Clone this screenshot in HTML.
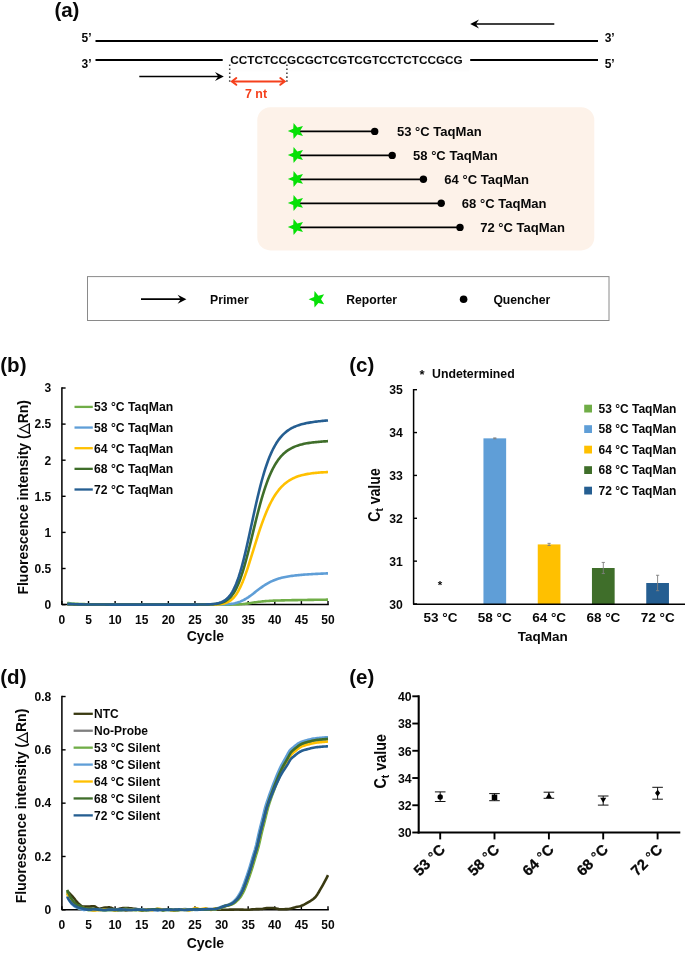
<!DOCTYPE html>
<html lang="en">
<head>
<meta charset="utf-8">
<title>TaqMan probe Tm comparison figure</title>
<style>
html,body{margin:0;padding:0;background:#fff;}
body{width:685px;height:959px;overflow:hidden;}
svg{display:block;font-family:"Liberation Sans", Arial, Helvetica, sans-serif;}
text{white-space:pre;}
</style>
</head>
<body>
<svg width="685" height="959" viewBox="0 0 685 959">
<rect width="685" height="959" fill="#fff"/>
<g id="panel-a">
<text x="54.40" y="16.60" font-size="20.5" text-anchor="start" fill="#080808" font-weight="bold" >(a)</text>
<text x="81.60" y="41.70" font-size="12" text-anchor="start" fill="#080808" font-weight="bold" >5’</text>
<text x="81.60" y="67.70" font-size="12" text-anchor="start" fill="#080808" font-weight="bold" >3’</text>
<text x="604.70" y="41.70" font-size="12" text-anchor="start" fill="#080808" font-weight="bold" >3’</text>
<text x="604.70" y="67.70" font-size="12" text-anchor="start" fill="#080808" font-weight="bold" >5’</text>
<line x1="95.50" y1="40.90" x2="598.00" y2="40.90" stroke="#000" stroke-width="2.0" />
<line x1="95.50" y1="59.90" x2="222.70" y2="59.90" stroke="#000" stroke-width="2.0" />
<line x1="470.20" y1="59.90" x2="598.00" y2="59.90" stroke="#000" stroke-width="2.0" />
<rect x="223.5" y="49.6" width="246" height="21.9" fill="#fdfdfd"/>
<text x="230.30" y="63.80" font-size="11.75" text-anchor="start" fill="#080808" font-weight="bold" >CCTCTCCGCGCTCGTCGTCCTCTCCGCG</text>
<line x1="139.30" y1="76.40" x2="220.80" y2="76.40" stroke="#000" stroke-width="1.5" />
<polygon points="223.80,76.40 215.00,71.90 218.20,76.40 215.00,80.90" fill="#000"/>
<line x1="554.30" y1="24.00" x2="473.20" y2="24.00" stroke="#000" stroke-width="1.5" />
<polygon points="470.20,24.00 479.00,19.50 475.80,24.00 479.00,28.50" fill="#000"/>
<line x1="229.70" y1="64.50" x2="229.70" y2="82.00" stroke="#404040" stroke-width="1.5" stroke-dasharray="1.6 2.34"/>
<line x1="286.90" y1="64.50" x2="286.90" y2="82.00" stroke="#404040" stroke-width="1.5" stroke-dasharray="1.6 2.34"/>
<line x1="232.80" y1="81.40" x2="283.80" y2="81.40" stroke="#f5401c" stroke-width="2.0" />
<polyline points="236.3,78.0 231.9,81.4 236.3,84.8" fill="none" stroke="#f5401c" stroke-width="2.0" stroke-linejoin="miter" stroke-linecap="round"/>
<polyline points="280.3,78.0 284.7,81.4 280.3,84.8" fill="none" stroke="#f5401c" stroke-width="2.0" stroke-linejoin="miter" stroke-linecap="round"/>
<text x="256.00" y="97.80" font-size="12.4" text-anchor="middle" fill="#f5401c" font-weight="bold" >7 nt</text>
<rect x="257.3" y="107.3" width="337" height="143.1" rx="13" ry="13" fill="#fdf2e9"/>
<line x1="297.00" y1="131.40" x2="374.70" y2="131.40" stroke="#000" stroke-width="1.7" />
<circle cx="374.7" cy="131.4" r="3.7" fill="#000"/>
<polygon points="287.80,131.00 293.21,128.83 293.60,123.01 297.34,127.48 303.00,126.06 299.90,131.00 303.00,135.94 297.34,134.52 293.60,138.99 293.21,133.17" fill="#06e006"/>
<text x="396.90" y="136.00" font-size="13.05" text-anchor="start" fill="#080808" font-weight="bold" >53 °C TaqMan</text>
<line x1="297.00" y1="155.40" x2="392.20" y2="155.40" stroke="#000" stroke-width="1.7" />
<circle cx="392.2" cy="155.4" r="3.7" fill="#000"/>
<polygon points="287.80,155.00 293.21,152.83 293.60,147.01 297.34,151.48 303.00,150.06 299.90,155.00 303.00,159.94 297.34,158.52 293.60,162.99 293.21,157.17" fill="#06e006"/>
<text x="413.00" y="160.00" font-size="13.05" text-anchor="start" fill="#080808" font-weight="bold" >58 °C TaqMan</text>
<line x1="297.00" y1="179.30" x2="423.40" y2="179.30" stroke="#000" stroke-width="1.7" />
<circle cx="423.4" cy="179.3" r="3.7" fill="#000"/>
<polygon points="287.80,178.90 293.21,176.73 293.60,170.91 297.34,175.38 303.00,173.96 299.90,178.90 303.00,183.84 297.34,182.42 293.60,186.89 293.21,181.07" fill="#06e006"/>
<text x="444.30" y="183.90" font-size="13.05" text-anchor="start" fill="#080808" font-weight="bold" >64 °C TaqMan</text>
<line x1="297.00" y1="203.30" x2="441.20" y2="203.30" stroke="#000" stroke-width="1.7" />
<circle cx="441.2" cy="203.3" r="3.7" fill="#000"/>
<polygon points="287.80,202.90 293.21,200.73 293.60,194.91 297.34,199.38 303.00,197.96 299.90,202.90 303.00,207.84 297.34,206.42 293.60,210.89 293.21,205.07" fill="#06e006"/>
<text x="461.80" y="207.90" font-size="13.05" text-anchor="start" fill="#080808" font-weight="bold" >68 °C TaqMan</text>
<line x1="297.00" y1="227.40" x2="460.00" y2="227.40" stroke="#000" stroke-width="1.7" />
<circle cx="460.0" cy="227.4" r="3.7" fill="#000"/>
<polygon points="287.80,227.00 293.21,224.83 293.60,219.01 297.34,223.48 303.00,222.06 299.90,227.00 303.00,231.94 297.34,230.52 293.60,234.99 293.21,229.17" fill="#06e006"/>
<text x="480.20" y="232.00" font-size="13.05" text-anchor="start" fill="#080808" font-weight="bold" >72 °C TaqMan</text>
<rect x="87.5" y="276.6" width="521.5" height="43.9" fill="#fff" stroke="#8a8a8a" stroke-width="1"/>
<line x1="141.00" y1="299.20" x2="183.40" y2="299.20" stroke="#000" stroke-width="1.7" />
<polygon points="186.40,299.20 177.60,294.70 180.80,299.20 177.60,303.70" fill="#000"/>
<text x="210.10" y="303.60" font-size="12.2" text-anchor="start" fill="#080808" font-weight="bold" >Primer</text>
<polygon points="308.60,299.30 314.13,297.07 314.54,291.12 318.37,295.69 324.16,294.25 321.00,299.30 324.16,304.35 318.37,302.91 314.54,307.48 314.13,301.53" fill="#06e006"/>
<text x="346.20" y="303.60" font-size="12.2" text-anchor="start" fill="#080808" font-weight="bold" >Reporter</text>
<circle cx="463.6" cy="299.3" r="3.8" fill="#000"/>
<text x="493.40" y="303.60" font-size="12.2" text-anchor="start" fill="#080808" font-weight="bold" >Quencher</text>
</g>
<g id="panel-b">
<text x="0.30" y="372.40" font-size="20.5" text-anchor="start" fill="#080808" font-weight="bold" >(b)</text>
<polyline points="61.9,387.2 61.9,604.6 328.8,604.6" fill="none" stroke="#000" stroke-width="1.5" stroke-linejoin="round"/>
<line x1="61.90" y1="604.60" x2="65.60" y2="604.60" stroke="#000" stroke-width="1.4" />
<text x="51.20" y="608.90" font-size="12" text-anchor="end" fill="#080808" font-weight="bold" >0</text>
<line x1="61.90" y1="568.50" x2="65.60" y2="568.50" stroke="#000" stroke-width="1.4" />
<text x="51.20" y="572.80" font-size="12" text-anchor="end" fill="#080808" font-weight="bold" >0.5</text>
<line x1="61.90" y1="532.40" x2="65.60" y2="532.40" stroke="#000" stroke-width="1.4" />
<text x="51.20" y="536.70" font-size="12" text-anchor="end" fill="#080808" font-weight="bold" >1</text>
<line x1="61.90" y1="496.30" x2="65.60" y2="496.30" stroke="#000" stroke-width="1.4" />
<text x="51.20" y="500.60" font-size="12" text-anchor="end" fill="#080808" font-weight="bold" >1.5</text>
<line x1="61.90" y1="460.20" x2="65.60" y2="460.20" stroke="#000" stroke-width="1.4" />
<text x="51.20" y="464.50" font-size="12" text-anchor="end" fill="#080808" font-weight="bold" >2</text>
<line x1="61.90" y1="424.10" x2="65.60" y2="424.10" stroke="#000" stroke-width="1.4" />
<text x="51.20" y="428.40" font-size="12" text-anchor="end" fill="#080808" font-weight="bold" >2.5</text>
<line x1="61.90" y1="388.00" x2="65.60" y2="388.00" stroke="#000" stroke-width="1.4" />
<text x="51.20" y="392.30" font-size="12" text-anchor="end" fill="#080808" font-weight="bold" >3</text>
<line x1="61.90" y1="604.60" x2="61.90" y2="601.00" stroke="#000" stroke-width="1.4" />
<text x="61.90" y="623.60" font-size="12" text-anchor="middle" fill="#080808" font-weight="bold" >0</text>
<line x1="88.51" y1="604.60" x2="88.51" y2="601.00" stroke="#000" stroke-width="1.4" />
<text x="88.51" y="623.60" font-size="12" text-anchor="middle" fill="#080808" font-weight="bold" >5</text>
<line x1="115.12" y1="604.60" x2="115.12" y2="601.00" stroke="#000" stroke-width="1.4" />
<text x="115.12" y="623.60" font-size="12" text-anchor="middle" fill="#080808" font-weight="bold" >10</text>
<line x1="141.73" y1="604.60" x2="141.73" y2="601.00" stroke="#000" stroke-width="1.4" />
<text x="141.73" y="623.60" font-size="12" text-anchor="middle" fill="#080808" font-weight="bold" >15</text>
<line x1="168.34" y1="604.60" x2="168.34" y2="601.00" stroke="#000" stroke-width="1.4" />
<text x="168.34" y="623.60" font-size="12" text-anchor="middle" fill="#080808" font-weight="bold" >20</text>
<line x1="194.95" y1="604.60" x2="194.95" y2="601.00" stroke="#000" stroke-width="1.4" />
<text x="194.95" y="623.60" font-size="12" text-anchor="middle" fill="#080808" font-weight="bold" >25</text>
<line x1="221.56" y1="604.60" x2="221.56" y2="601.00" stroke="#000" stroke-width="1.4" />
<text x="221.56" y="623.60" font-size="12" text-anchor="middle" fill="#080808" font-weight="bold" >30</text>
<line x1="248.17" y1="604.60" x2="248.17" y2="601.00" stroke="#000" stroke-width="1.4" />
<text x="248.17" y="623.60" font-size="12" text-anchor="middle" fill="#080808" font-weight="bold" >35</text>
<line x1="274.78" y1="604.60" x2="274.78" y2="601.00" stroke="#000" stroke-width="1.4" />
<text x="274.78" y="623.60" font-size="12" text-anchor="middle" fill="#080808" font-weight="bold" >40</text>
<line x1="301.39" y1="604.60" x2="301.39" y2="601.00" stroke="#000" stroke-width="1.4" />
<text x="301.39" y="623.60" font-size="12" text-anchor="middle" fill="#080808" font-weight="bold" >45</text>
<line x1="328.00" y1="604.60" x2="328.00" y2="601.00" stroke="#000" stroke-width="1.4" />
<text x="328.00" y="623.60" font-size="12" text-anchor="middle" fill="#080808" font-weight="bold" >50</text>
<path d="M67.22,603.01 L68.55,603.16 L69.88,603.30 L71.21,603.42 L72.54,603.54 L73.87,603.64 L75.20,603.73 L76.54,603.81 L77.87,603.89 L79.20,603.95 L80.53,604.02 L81.86,604.07 L83.19,604.12 L84.52,604.17 L85.85,604.21 L87.18,604.25 L88.51,604.28 L89.84,604.31 L91.17,604.34 L92.50,604.36 L93.83,604.39 L95.16,604.41 L96.49,604.42 L97.82,604.44 L99.15,604.46 L100.48,604.47 L101.81,604.48 L103.15,604.49 L104.48,604.50 L105.81,604.51 L107.14,604.52 L108.47,604.53 L109.80,604.54 L111.13,604.54 L112.46,604.55 L113.79,604.55 L115.12,604.56 L116.45,604.56 L117.78,604.56 L119.11,604.57 L120.44,604.57 L121.77,604.57 L123.10,604.58 L124.43,604.58 L125.76,604.58 L127.09,604.58 L128.43,604.58 L129.76,604.59 L131.09,604.59 L132.42,604.59 L133.75,604.59 L135.08,604.59 L136.41,604.59 L137.74,604.59 L139.07,604.59 L140.40,604.59 L141.73,604.59 L143.06,604.59 L144.39,604.60 L145.72,604.60 L147.05,604.60 L148.38,604.60 L149.71,604.60 L151.04,604.60 L152.37,604.60 L153.70,604.60 L155.03,604.60 L156.37,604.60 L157.70,604.60 L159.03,604.60 L160.36,604.60 L161.69,604.60 L163.02,604.60 L164.35,604.60 L165.68,604.60 L167.01,604.60 L168.34,604.60 L169.67,604.60 L171.00,604.60 L172.33,604.60 L173.66,604.60 L174.99,604.60 L176.32,604.60 L177.65,604.60 L178.98,604.60 L180.31,604.60 L181.65,604.60 L182.98,604.60 L184.31,604.60 L185.64,604.60 L186.97,604.60 L188.30,604.60 L189.63,604.60 L190.96,604.60 L192.29,604.60 L193.62,604.60 L194.95,604.60 L196.28,604.60 L197.61,604.60 L198.94,604.60 L200.27,604.60 L201.60,604.60 L202.93,604.60 L204.26,604.60 L205.59,604.60 L206.92,604.60 L208.25,604.60 L209.59,604.60 L210.92,604.60 L212.25,604.60 L213.58,604.60 L214.91,604.60 L216.24,604.60 L217.57,604.60 L218.90,604.60 L220.23,604.60 L221.56,604.60 L222.89,604.60 L224.22,604.60 L225.55,604.60 L226.88,604.60 L228.21,604.59 L229.54,604.59 L230.87,604.58 L232.20,604.57 L233.53,604.56 L234.87,604.53 L236.20,604.50 L237.53,604.45 L238.86,604.38 L240.19,604.30 L241.52,604.20 L242.85,604.08 L244.18,603.93 L245.51,603.77 L246.84,603.59 L248.17,603.40 L249.50,603.19 L250.83,602.99 L252.16,602.78 L253.49,602.57 L254.82,602.37 L256.15,602.18 L257.48,602.00 L258.81,601.83 L260.14,601.67 L261.47,601.52 L262.81,601.39 L264.14,601.27 L265.47,601.15 L266.80,601.05 L268.13,600.96 L269.46,600.88 L270.79,600.80 L272.12,600.73 L273.45,600.67 L274.78,600.61 L276.11,600.56 L277.44,600.51 L278.77,600.47 L280.10,600.43 L281.43,600.39 L282.76,600.36 L284.09,600.33 L285.42,600.30 L286.75,600.27 L288.08,600.24 L289.42,600.21 L290.75,600.19 L292.08,600.16 L293.41,600.14 L294.74,600.12 L296.07,600.10 L297.40,600.08 L298.73,600.05 L300.06,600.03 L301.39,600.01 L302.72,599.99 L304.05,599.97 L305.38,599.96 L306.71,599.94 L308.04,599.92 L309.37,599.90 L310.70,599.88 L312.03,599.86 L313.36,599.84 L314.69,599.82 L316.03,599.80 L317.36,599.79 L318.69,599.77 L320.02,599.75 L321.35,599.73 L322.68,599.71 L324.01,599.70 L325.34,599.68 L326.67,599.66 L328.00,599.64" fill="none" stroke="#70ad47" stroke-width="2.6" stroke-linejoin="round" stroke-linecap="butt"/>
<path d="M67.22,603.88 L68.55,603.95 L69.88,604.01 L71.21,604.07 L72.54,604.12 L73.87,604.16 L75.20,604.20 L76.54,604.24 L77.87,604.28 L79.20,604.31 L80.53,604.33 L81.86,604.36 L83.19,604.38 L84.52,604.40 L85.85,604.42 L87.18,604.44 L88.51,604.45 L89.84,604.47 L91.17,604.48 L92.50,604.49 L93.83,604.50 L95.16,604.51 L96.49,604.52 L97.82,604.53 L99.15,604.53 L100.48,604.54 L101.81,604.55 L103.15,604.55 L104.48,604.56 L105.81,604.56 L107.14,604.56 L108.47,604.57 L109.80,604.57 L111.13,604.57 L112.46,604.58 L113.79,604.58 L115.12,604.58 L116.45,604.58 L117.78,604.58 L119.11,604.59 L120.44,604.59 L121.77,604.59 L123.10,604.59 L124.43,604.59 L125.76,604.59 L127.09,604.59 L128.43,604.59 L129.76,604.59 L131.09,604.59 L132.42,604.59 L133.75,604.60 L135.08,604.60 L136.41,604.60 L137.74,604.60 L139.07,604.60 L140.40,604.60 L141.73,604.60 L143.06,604.60 L144.39,604.60 L145.72,604.60 L147.05,604.60 L148.38,604.60 L149.71,604.60 L151.04,604.60 L152.37,604.60 L153.70,604.60 L155.03,604.60 L156.37,604.60 L157.70,604.60 L159.03,604.60 L160.36,604.60 L161.69,604.60 L163.02,604.60 L164.35,604.60 L165.68,604.60 L167.01,604.60 L168.34,604.60 L169.67,604.60 L171.00,604.60 L172.33,604.60 L173.66,604.60 L174.99,604.60 L176.32,604.60 L177.65,604.60 L178.98,604.60 L180.31,604.60 L181.65,604.60 L182.98,604.60 L184.31,604.60 L185.64,604.60 L186.97,604.60 L188.30,604.60 L189.63,604.60 L190.96,604.60 L192.29,604.60 L193.62,604.60 L194.95,604.60 L196.28,604.60 L197.61,604.60 L198.94,604.60 L200.27,604.60 L201.60,604.60 L202.93,604.60 L204.26,604.60 L205.59,604.59 L206.92,604.59 L208.25,604.59 L209.59,604.59 L210.92,604.58 L212.25,604.58 L213.58,604.57 L214.91,604.56 L216.24,604.55 L217.57,604.54 L218.90,604.52 L220.23,604.49 L221.56,604.46 L222.89,604.42 L224.22,604.37 L225.55,604.31 L226.88,604.23 L228.21,604.13 L229.54,604.00 L230.87,603.85 L232.20,603.67 L233.53,603.45 L234.87,603.19 L236.20,602.87 L237.53,602.51 L238.86,602.08 L240.19,601.60 L241.52,601.05 L242.85,600.43 L244.18,599.75 L245.51,599.00 L246.84,598.19 L248.17,597.32 L249.50,596.40 L250.83,595.44 L252.16,594.44 L253.49,593.42 L254.82,592.39 L256.15,591.35 L257.48,590.31 L258.81,589.30 L260.14,588.30 L261.47,587.33 L262.81,586.39 L264.14,585.50 L265.47,584.65 L266.80,583.84 L268.13,583.08 L269.46,582.36 L270.79,581.70 L272.12,581.07 L273.45,580.50 L274.78,579.96 L276.11,579.47 L277.44,579.01 L278.77,578.59 L280.10,578.20 L281.43,577.84 L282.76,577.52 L284.09,577.21 L285.42,576.94 L286.75,576.68 L288.08,576.45 L289.42,576.23 L290.75,576.03 L292.08,575.84 L293.41,575.67 L294.74,575.51 L296.07,575.36 L297.40,575.23 L298.73,575.10 L300.06,574.98 L301.39,574.86 L302.72,574.75 L304.05,574.65 L305.38,574.56 L306.71,574.47 L308.04,574.38 L309.37,574.29 L310.70,574.21 L312.03,574.14 L313.36,574.06 L314.69,573.99 L316.03,573.92 L317.36,573.85 L318.69,573.78 L320.02,573.72 L321.35,573.66 L322.68,573.59 L324.01,573.53 L325.34,573.47 L326.67,573.41 L328.00,573.35" fill="none" stroke="#5f9ed7" stroke-width="2.6" stroke-linejoin="round" stroke-linecap="butt"/>
<path d="M67.22,604.17 L68.55,604.21 L69.88,604.25 L71.21,604.28 L72.54,604.31 L73.87,604.34 L75.20,604.36 L76.54,604.38 L77.87,604.41 L79.20,604.42 L80.53,604.44 L81.86,604.46 L83.19,604.47 L84.52,604.48 L85.85,604.49 L87.18,604.50 L88.51,604.51 L89.84,604.52 L91.17,604.53 L92.50,604.54 L93.83,604.54 L95.16,604.55 L96.49,604.55 L97.82,604.56 L99.15,604.56 L100.48,604.56 L101.81,604.57 L103.15,604.57 L104.48,604.57 L105.81,604.58 L107.14,604.58 L108.47,604.58 L109.80,604.58 L111.13,604.58 L112.46,604.59 L113.79,604.59 L115.12,604.59 L116.45,604.59 L117.78,604.59 L119.11,604.59 L120.44,604.59 L121.77,604.59 L123.10,604.59 L124.43,604.59 L125.76,604.59 L127.09,604.60 L128.43,604.60 L129.76,604.60 L131.09,604.60 L132.42,604.60 L133.75,604.60 L135.08,604.60 L136.41,604.60 L137.74,604.60 L139.07,604.60 L140.40,604.60 L141.73,604.60 L143.06,604.60 L144.39,604.60 L145.72,604.60 L147.05,604.60 L148.38,604.60 L149.71,604.60 L151.04,604.60 L152.37,604.60 L153.70,604.60 L155.03,604.60 L156.37,604.60 L157.70,604.60 L159.03,604.60 L160.36,604.60 L161.69,604.60 L163.02,604.60 L164.35,604.60 L165.68,604.60 L167.01,604.60 L168.34,604.60 L169.67,604.60 L171.00,604.60 L172.33,604.60 L173.66,604.60 L174.99,604.60 L176.32,604.60 L177.65,604.60 L178.98,604.60 L180.31,604.60 L181.65,604.60 L182.98,604.60 L184.31,604.60 L185.64,604.60 L186.97,604.60 L188.30,604.60 L189.63,604.60 L190.96,604.60 L192.29,604.60 L193.62,604.60 L194.95,604.60 L196.28,604.60 L197.61,604.60 L198.94,604.60 L200.27,604.60 L201.60,604.60 L202.93,604.59 L204.26,604.59 L205.59,604.59 L206.92,604.58 L208.25,604.58 L209.59,604.56 L210.92,604.55 L212.25,604.53 L213.58,604.50 L214.91,604.46 L216.24,604.40 L217.57,604.33 L218.90,604.23 L220.23,604.09 L221.56,603.91 L222.89,603.68 L224.22,603.38 L225.55,602.99 L226.88,602.50 L228.21,601.89 L229.54,601.14 L230.87,600.22 L232.20,599.11 L233.53,597.79 L234.87,596.23 L236.20,594.43 L237.53,592.37 L238.86,590.03 L240.19,587.42 L241.52,584.54 L242.85,581.39 L244.18,578.00 L245.51,574.38 L246.84,570.56 L248.17,566.57 L249.50,562.44 L250.83,558.22 L252.16,553.93 L253.49,549.61 L254.82,545.30 L256.15,541.02 L257.48,536.82 L258.81,532.71 L260.14,528.71 L261.47,524.85 L262.81,521.15 L264.14,517.60 L265.47,514.23 L266.80,511.03 L268.13,508.01 L269.46,505.17 L270.79,502.50 L272.12,500.01 L273.45,497.69 L274.78,495.53 L276.11,493.53 L277.44,491.68 L278.77,489.96 L280.10,488.38 L281.43,486.93 L282.76,485.59 L284.09,484.36 L285.42,483.23 L286.75,482.20 L288.08,481.25 L289.42,480.38 L290.75,479.59 L292.08,478.87 L293.41,478.21 L294.74,477.61 L296.07,477.06 L297.40,476.56 L298.73,476.10 L300.06,475.69 L301.39,475.31 L302.72,474.97 L304.05,474.65 L305.38,474.37 L306.71,474.11 L308.04,473.87 L309.37,473.66 L310.70,473.46 L312.03,473.28 L313.36,473.12 L314.69,472.98 L316.03,472.84 L317.36,472.72 L318.69,472.61 L320.02,472.51 L321.35,472.41 L322.68,472.33 L324.01,472.25 L325.34,472.18 L326.67,472.12 L328.00,472.06" fill="none" stroke="#ffc000" stroke-width="2.6" stroke-linejoin="round" stroke-linecap="butt"/>
<path d="M67.22,604.17 L68.55,604.21 L69.88,604.25 L71.21,604.28 L72.54,604.31 L73.87,604.34 L75.20,604.36 L76.54,604.38 L77.87,604.41 L79.20,604.42 L80.53,604.44 L81.86,604.46 L83.19,604.47 L84.52,604.48 L85.85,604.49 L87.18,604.50 L88.51,604.51 L89.84,604.52 L91.17,604.53 L92.50,604.54 L93.83,604.54 L95.16,604.55 L96.49,604.55 L97.82,604.56 L99.15,604.56 L100.48,604.56 L101.81,604.57 L103.15,604.57 L104.48,604.57 L105.81,604.58 L107.14,604.58 L108.47,604.58 L109.80,604.58 L111.13,604.58 L112.46,604.59 L113.79,604.59 L115.12,604.59 L116.45,604.59 L117.78,604.59 L119.11,604.59 L120.44,604.59 L121.77,604.59 L123.10,604.59 L124.43,604.59 L125.76,604.59 L127.09,604.60 L128.43,604.60 L129.76,604.60 L131.09,604.60 L132.42,604.60 L133.75,604.60 L135.08,604.60 L136.41,604.60 L137.74,604.60 L139.07,604.60 L140.40,604.60 L141.73,604.60 L143.06,604.60 L144.39,604.60 L145.72,604.60 L147.05,604.60 L148.38,604.60 L149.71,604.60 L151.04,604.60 L152.37,604.60 L153.70,604.60 L155.03,604.60 L156.37,604.60 L157.70,604.60 L159.03,604.60 L160.36,604.60 L161.69,604.60 L163.02,604.60 L164.35,604.60 L165.68,604.60 L167.01,604.60 L168.34,604.60 L169.67,604.60 L171.00,604.60 L172.33,604.60 L173.66,604.60 L174.99,604.60 L176.32,604.60 L177.65,604.60 L178.98,604.60 L180.31,604.60 L181.65,604.60 L182.98,604.60 L184.31,604.60 L185.64,604.60 L186.97,604.60 L188.30,604.60 L189.63,604.60 L190.96,604.59 L192.29,604.59 L193.62,604.59 L194.95,604.59 L196.28,604.58 L197.61,604.58 L198.94,604.57 L200.27,604.56 L201.60,604.55 L202.93,604.54 L204.26,604.52 L205.59,604.50 L206.92,604.47 L208.25,604.43 L209.59,604.38 L210.92,604.32 L212.25,604.24 L213.58,604.15 L214.91,604.02 L216.24,603.87 L217.57,603.68 L218.90,603.43 L220.23,603.14 L221.56,602.77 L222.89,602.31 L224.22,601.75 L225.55,601.08 L226.88,600.26 L228.21,599.28 L229.54,598.11 L230.87,596.73 L232.20,595.11 L233.53,593.23 L234.87,591.07 L236.20,588.59 L237.53,585.80 L238.86,582.67 L240.19,579.21 L241.52,575.41 L242.85,571.29 L244.18,566.87 L245.51,562.16 L246.84,557.22 L248.17,552.06 L249.50,546.75 L250.83,541.33 L252.16,535.84 L253.49,530.34 L254.82,524.87 L256.15,519.48 L257.48,514.20 L258.81,509.08 L260.14,504.14 L261.47,499.40 L262.81,494.89 L264.14,490.62 L265.47,486.59 L266.80,482.81 L268.13,479.27 L269.46,475.99 L270.79,472.94 L272.12,470.12 L273.45,467.52 L274.78,465.13 L276.11,462.95 L277.44,460.94 L278.77,459.11 L280.10,457.44 L281.43,455.92 L282.76,454.54 L284.09,453.28 L285.42,452.14 L286.75,451.10 L288.08,450.17 L289.42,449.31 L290.75,448.54 L292.08,447.84 L293.41,447.21 L294.74,446.63 L296.07,446.11 L297.40,445.64 L298.73,445.21 L300.06,444.82 L301.39,444.47 L302.72,444.14 L304.05,443.85 L305.38,443.58 L306.71,443.33 L308.04,443.11 L309.37,442.90 L310.70,442.71 L312.03,442.54 L313.36,442.37 L314.69,442.22 L316.03,442.09 L317.36,441.96 L318.69,441.84 L320.02,441.72 L321.35,441.62 L322.68,441.52 L324.01,441.42 L325.34,441.33 L326.67,441.25 L328.00,441.17" fill="none" stroke="#3f6e2a" stroke-width="2.6" stroke-linejoin="round" stroke-linecap="butt"/>
<path d="M67.22,604.02 L68.55,604.08 L69.88,604.13 L71.21,604.17 L72.54,604.21 L73.87,604.25 L75.20,604.28 L76.54,604.31 L77.87,604.34 L79.20,604.37 L80.53,604.39 L81.86,604.41 L83.19,604.43 L84.52,604.44 L85.85,604.46 L87.18,604.47 L88.51,604.48 L89.84,604.49 L91.17,604.50 L92.50,604.51 L93.83,604.52 L95.16,604.53 L96.49,604.54 L97.82,604.54 L99.15,604.55 L100.48,604.55 L101.81,604.56 L103.15,604.56 L104.48,604.56 L105.81,604.57 L107.14,604.57 L108.47,604.57 L109.80,604.58 L111.13,604.58 L112.46,604.58 L113.79,604.58 L115.12,604.58 L116.45,604.59 L117.78,604.59 L119.11,604.59 L120.44,604.59 L121.77,604.59 L123.10,604.59 L124.43,604.59 L125.76,604.59 L127.09,604.59 L128.43,604.59 L129.76,604.59 L131.09,604.60 L132.42,604.60 L133.75,604.60 L135.08,604.60 L136.41,604.60 L137.74,604.60 L139.07,604.60 L140.40,604.60 L141.73,604.60 L143.06,604.60 L144.39,604.60 L145.72,604.60 L147.05,604.60 L148.38,604.60 L149.71,604.60 L151.04,604.60 L152.37,604.60 L153.70,604.60 L155.03,604.60 L156.37,604.60 L157.70,604.60 L159.03,604.60 L160.36,604.60 L161.69,604.60 L163.02,604.60 L164.35,604.60 L165.68,604.60 L167.01,604.60 L168.34,604.60 L169.67,604.60 L171.00,604.60 L172.33,604.60 L173.66,604.60 L174.99,604.60 L176.32,604.60 L177.65,604.60 L178.98,604.60 L180.31,604.60 L181.65,604.60 L182.98,604.60 L184.31,604.60 L185.64,604.60 L186.97,604.60 L188.30,604.60 L189.63,604.59 L190.96,604.59 L192.29,604.59 L193.62,604.59 L194.95,604.58 L196.28,604.58 L197.61,604.57 L198.94,604.56 L200.27,604.55 L201.60,604.53 L202.93,604.52 L204.26,604.49 L205.59,604.46 L206.92,604.42 L208.25,604.37 L209.59,604.30 L210.92,604.22 L212.25,604.11 L213.58,603.98 L214.91,603.81 L216.24,603.60 L217.57,603.34 L218.90,603.02 L220.23,602.61 L221.56,602.11 L222.89,601.50 L224.22,600.76 L225.55,599.86 L226.88,598.78 L228.21,597.49 L229.54,595.97 L230.87,594.17 L232.20,592.09 L233.53,589.68 L234.87,586.93 L236.20,583.82 L237.53,580.33 L238.86,576.47 L240.19,572.22 L241.52,567.61 L242.85,562.66 L244.18,557.39 L245.51,551.84 L246.84,546.06 L248.17,540.10 L249.50,534.00 L250.83,527.84 L252.16,521.65 L253.49,515.51 L254.82,509.45 L256.15,503.51 L257.48,497.75 L258.81,492.19 L260.14,486.87 L261.47,481.79 L262.81,476.98 L264.14,472.45 L265.47,468.19 L266.80,464.22 L268.13,460.52 L269.46,457.09 L270.79,453.91 L272.12,450.98 L273.45,448.29 L274.78,445.82 L276.11,443.56 L277.44,441.50 L278.77,439.61 L280.10,437.89 L281.43,436.32 L282.76,434.89 L284.09,433.60 L285.42,432.42 L286.75,431.35 L288.08,430.37 L289.42,429.49 L290.75,428.68 L292.08,427.95 L293.41,427.29 L294.74,426.68 L296.07,426.13 L297.40,425.63 L298.73,425.17 L300.06,424.74 L301.39,424.36 L302.72,424.01 L304.05,423.68 L305.38,423.38 L306.71,423.10 L308.04,422.85 L309.37,422.61 L310.70,422.39 L312.03,422.18 L313.36,421.99 L314.69,421.81 L316.03,421.64 L317.36,421.48 L318.69,421.32 L320.02,421.18 L321.35,421.04 L322.68,420.91 L324.01,420.78 L325.34,420.66 L326.67,420.55 L328.00,420.43" fill="none" stroke="#255e91" stroke-width="2.6" stroke-linejoin="round" stroke-linecap="butt"/>
<text x="205.40" y="641.30" font-size="14" text-anchor="middle" fill="#080808" font-weight="bold" >Cycle</text>
<text transform="translate(28.0,497.3) rotate(-90)" font-size="14" text-anchor="middle" fill="#080808" font-weight="bold">Fluorescence intensity (△Rn)</text>
<line x1="74.50" y1="406.90" x2="92.80" y2="406.90" stroke="#70ad47" stroke-width="2.3" />
<text x="94.00" y="411.20" font-size="12.2" text-anchor="start" fill="#080808" font-weight="bold" >53 °C TaqMan</text>
<line x1="74.50" y1="427.55" x2="92.80" y2="427.55" stroke="#5f9ed7" stroke-width="2.3" />
<text x="94.00" y="431.85" font-size="12.2" text-anchor="start" fill="#080808" font-weight="bold" >58 °C TaqMan</text>
<line x1="74.50" y1="448.20" x2="92.80" y2="448.20" stroke="#ffc000" stroke-width="2.3" />
<text x="94.00" y="452.50" font-size="12.2" text-anchor="start" fill="#080808" font-weight="bold" >64 °C TaqMan</text>
<line x1="74.50" y1="468.85" x2="92.80" y2="468.85" stroke="#3f6e2a" stroke-width="2.3" />
<text x="94.00" y="473.15" font-size="12.2" text-anchor="start" fill="#080808" font-weight="bold" >68 °C TaqMan</text>
<line x1="74.50" y1="489.50" x2="92.80" y2="489.50" stroke="#255e91" stroke-width="2.3" />
<text x="94.00" y="493.80" font-size="12.2" text-anchor="start" fill="#080808" font-weight="bold" >72 °C TaqMan</text>
</g>
<g id="panel-c">
<text x="349.20" y="372.40" font-size="20.5" text-anchor="start" fill="#080808" font-weight="bold" >(c)</text>
<text x="419.40" y="378.80" font-size="13" text-anchor="start" fill="#080808" font-weight="bold" >*</text>
<text x="432.00" y="377.90" font-size="12.3" text-anchor="start" fill="#080808" font-weight="bold" >Undetermined</text>
<rect x="483.45" y="438.35" width="22.7" height="165.65" fill="#5f9ed7"/>
<line x1="494.80" y1="437.92" x2="494.80" y2="438.77" stroke="#7f7f7f" stroke-width="0.9" />
<line x1="493.20" y1="437.92" x2="496.40" y2="437.92" stroke="#7f7f7f" stroke-width="0.9" />
<line x1="493.20" y1="438.77" x2="496.40" y2="438.77" stroke="#7f7f7f" stroke-width="0.9" />
<rect x="537.75" y="544.42" width="22.7" height="59.58" fill="#ffc000"/>
<line x1="549.10" y1="543.35" x2="549.10" y2="545.50" stroke="#7f7f7f" stroke-width="0.9" />
<line x1="547.50" y1="543.35" x2="550.70" y2="543.35" stroke="#7f7f7f" stroke-width="0.9" />
<line x1="547.50" y1="545.50" x2="550.70" y2="545.50" stroke="#7f7f7f" stroke-width="0.9" />
<rect x="591.95" y="568.00" width="22.7" height="36.00" fill="#3f6e2a"/>
<line x1="603.30" y1="562.43" x2="603.30" y2="573.57" stroke="#7f7f7f" stroke-width="0.9" />
<line x1="601.70" y1="562.43" x2="604.90" y2="562.43" stroke="#7f7f7f" stroke-width="0.9" />
<line x1="601.70" y1="573.57" x2="604.90" y2="573.57" stroke="#7f7f7f" stroke-width="0.9" />
<rect x="646.25" y="583.00" width="22.7" height="21.00" fill="#255e91"/>
<line x1="657.60" y1="575.28" x2="657.60" y2="590.71" stroke="#7f7f7f" stroke-width="0.9" />
<line x1="656.00" y1="575.28" x2="659.20" y2="575.28" stroke="#7f7f7f" stroke-width="0.9" />
<line x1="656.00" y1="590.71" x2="659.20" y2="590.71" stroke="#7f7f7f" stroke-width="0.9" />
<polyline points="413.59999999999997,389.0 413.59999999999997,604.2 686,604.2" fill="none" stroke="#000" stroke-width="1.5" stroke-linejoin="round"/>
<line x1="413.40" y1="604.00" x2="417.00" y2="604.00" stroke="#000" stroke-width="1.4" />
<text x="402.90" y="609.15" font-size="12.2" text-anchor="end" fill="#080808" font-weight="bold" >30</text>
<line x1="413.40" y1="561.14" x2="417.00" y2="561.14" stroke="#000" stroke-width="1.4" />
<text x="402.90" y="566.04" font-size="12.2" text-anchor="end" fill="#080808" font-weight="bold" >31</text>
<line x1="413.40" y1="518.28" x2="417.00" y2="518.28" stroke="#000" stroke-width="1.4" />
<text x="402.90" y="522.93" font-size="12.2" text-anchor="end" fill="#080808" font-weight="bold" >32</text>
<line x1="413.40" y1="475.42" x2="417.00" y2="475.42" stroke="#000" stroke-width="1.4" />
<text x="402.90" y="479.82" font-size="12.2" text-anchor="end" fill="#080808" font-weight="bold" >33</text>
<line x1="413.40" y1="432.56" x2="417.00" y2="432.56" stroke="#000" stroke-width="1.4" />
<text x="402.90" y="436.71" font-size="12.2" text-anchor="end" fill="#080808" font-weight="bold" >34</text>
<line x1="413.40" y1="389.70" x2="417.00" y2="389.70" stroke="#000" stroke-width="1.4" />
<text x="402.90" y="393.60" font-size="12.2" text-anchor="end" fill="#080808" font-weight="bold" >35</text>
<text x="440.50" y="622.30" font-size="13.5" text-anchor="middle" fill="#080808" font-weight="bold" >53 °C</text>
<text x="494.80" y="622.30" font-size="13.5" text-anchor="middle" fill="#080808" font-weight="bold" >58 °C</text>
<text x="549.10" y="622.30" font-size="13.5" text-anchor="middle" fill="#080808" font-weight="bold" >64 °C</text>
<text x="603.40" y="622.30" font-size="13.5" text-anchor="middle" fill="#080808" font-weight="bold" >68 °C</text>
<text x="657.70" y="622.30" font-size="13.5" text-anchor="middle" fill="#080808" font-weight="bold" >72 °C</text>
<text x="439.90" y="589.10" font-size="11.5" text-anchor="middle" fill="#080808" font-weight="bold" >*</text>
<text x="542.70" y="641.00" font-size="13.5" text-anchor="middle" fill="#080808" font-weight="bold" >TaqMan</text>
<text transform="translate(379.9,495.0) rotate(-90) scale(1,1.14)" font-size="14.1" text-anchor="middle" fill="#080808" font-weight="bold">C<tspan font-size="10" dy="2.8">t</tspan><tspan dy="-2.8"> value</tspan></text>
<rect x="584.2" y="404.70" width="7.8" height="7.8" fill="#70ad47"/>
<text x="598.50" y="412.90" font-size="12.0" text-anchor="start" fill="#080808" font-weight="bold" >53 °C TaqMan</text>
<rect x="584.2" y="425.20" width="7.8" height="7.8" fill="#5f9ed7"/>
<text x="598.50" y="433.40" font-size="12.0" text-anchor="start" fill="#080808" font-weight="bold" >58 °C TaqMan</text>
<rect x="584.2" y="445.70" width="7.8" height="7.8" fill="#ffc000"/>
<text x="598.50" y="453.90" font-size="12.0" text-anchor="start" fill="#080808" font-weight="bold" >64 °C TaqMan</text>
<rect x="584.2" y="466.20" width="7.8" height="7.8" fill="#3f6e2a"/>
<text x="598.50" y="474.40" font-size="12.0" text-anchor="start" fill="#080808" font-weight="bold" >68 °C TaqMan</text>
<rect x="584.2" y="486.70" width="7.8" height="7.8" fill="#255e91"/>
<text x="598.50" y="494.90" font-size="12.0" text-anchor="start" fill="#080808" font-weight="bold" >72 °C TaqMan</text>
</g>
<g id="panel-d">
<text x="0.30" y="684.40" font-size="20.5" text-anchor="start" fill="#080808" font-weight="bold" >(d)</text>
<polyline points="61.9,695.8 61.9,909.8 328.8,909.8" fill="none" stroke="#000" stroke-width="1.5" stroke-linejoin="round"/>
<line x1="61.90" y1="909.80" x2="65.60" y2="909.80" stroke="#000" stroke-width="1.4" />
<text x="51.20" y="914.10" font-size="12" text-anchor="end" fill="#080808" font-weight="bold" >0</text>
<line x1="61.90" y1="856.48" x2="65.60" y2="856.48" stroke="#000" stroke-width="1.4" />
<text x="51.20" y="860.78" font-size="12" text-anchor="end" fill="#080808" font-weight="bold" >0.2</text>
<line x1="61.90" y1="803.16" x2="65.60" y2="803.16" stroke="#000" stroke-width="1.4" />
<text x="51.20" y="807.46" font-size="12" text-anchor="end" fill="#080808" font-weight="bold" >0.4</text>
<line x1="61.90" y1="749.84" x2="65.60" y2="749.84" stroke="#000" stroke-width="1.4" />
<text x="51.20" y="754.14" font-size="12" text-anchor="end" fill="#080808" font-weight="bold" >0.6</text>
<line x1="61.90" y1="696.52" x2="65.60" y2="696.52" stroke="#000" stroke-width="1.4" />
<text x="51.20" y="700.82" font-size="12" text-anchor="end" fill="#080808" font-weight="bold" >0.8</text>
<line x1="61.90" y1="909.80" x2="61.90" y2="906.20" stroke="#000" stroke-width="1.4" />
<text x="61.90" y="929.00" font-size="12" text-anchor="middle" fill="#080808" font-weight="bold" >0</text>
<line x1="88.51" y1="909.80" x2="88.51" y2="906.20" stroke="#000" stroke-width="1.4" />
<text x="88.51" y="929.00" font-size="12" text-anchor="middle" fill="#080808" font-weight="bold" >5</text>
<line x1="115.12" y1="909.80" x2="115.12" y2="906.20" stroke="#000" stroke-width="1.4" />
<text x="115.12" y="929.00" font-size="12" text-anchor="middle" fill="#080808" font-weight="bold" >10</text>
<line x1="141.73" y1="909.80" x2="141.73" y2="906.20" stroke="#000" stroke-width="1.4" />
<text x="141.73" y="929.00" font-size="12" text-anchor="middle" fill="#080808" font-weight="bold" >15</text>
<line x1="168.34" y1="909.80" x2="168.34" y2="906.20" stroke="#000" stroke-width="1.4" />
<text x="168.34" y="929.00" font-size="12" text-anchor="middle" fill="#080808" font-weight="bold" >20</text>
<line x1="194.95" y1="909.80" x2="194.95" y2="906.20" stroke="#000" stroke-width="1.4" />
<text x="194.95" y="929.00" font-size="12" text-anchor="middle" fill="#080808" font-weight="bold" >25</text>
<line x1="221.56" y1="909.80" x2="221.56" y2="906.20" stroke="#000" stroke-width="1.4" />
<text x="221.56" y="929.00" font-size="12" text-anchor="middle" fill="#080808" font-weight="bold" >30</text>
<line x1="248.17" y1="909.80" x2="248.17" y2="906.20" stroke="#000" stroke-width="1.4" />
<text x="248.17" y="929.00" font-size="12" text-anchor="middle" fill="#080808" font-weight="bold" >35</text>
<line x1="274.78" y1="909.80" x2="274.78" y2="906.20" stroke="#000" stroke-width="1.4" />
<text x="274.78" y="929.00" font-size="12" text-anchor="middle" fill="#080808" font-weight="bold" >40</text>
<line x1="301.39" y1="909.80" x2="301.39" y2="906.20" stroke="#000" stroke-width="1.4" />
<text x="301.39" y="929.00" font-size="12" text-anchor="middle" fill="#080808" font-weight="bold" >45</text>
<line x1="328.00" y1="909.80" x2="328.00" y2="906.20" stroke="#000" stroke-width="1.4" />
<text x="328.00" y="929.00" font-size="12" text-anchor="middle" fill="#080808" font-weight="bold" >50</text>
<path d="M67.22,891.14 L68.55,892.37 L69.88,893.68 L71.21,895.04 L72.54,896.47 L73.87,898.07 L75.20,899.81 L76.54,901.48 L77.87,902.87 L79.20,904.11 L80.53,905.32 L81.86,906.24 L83.19,906.60 L84.52,906.60 L85.85,906.60 L87.18,906.60 L88.51,906.60 L89.84,906.54 L91.17,906.40 L92.50,906.26 L93.83,906.20 L95.16,906.60 L96.49,907.47 L97.82,908.34 L99.15,908.73 L100.48,908.59 L101.81,908.25 L103.15,907.89 L104.48,907.67 L105.81,907.57 L107.14,907.48 L108.47,907.42 L109.80,907.40 L111.13,907.69 L112.46,908.33 L113.79,908.98 L115.12,909.27 L116.45,909.21 L117.78,909.06 L119.11,908.85 L120.44,908.60 L121.77,908.36 L123.10,908.14 L124.43,907.99 L125.76,907.93 L127.09,907.96 L128.43,908.05 L129.76,908.17 L131.09,908.33 L132.42,908.50 L133.75,908.69 L135.08,908.89 L136.41,909.07 L137.74,909.24 L139.07,909.38 L140.40,909.48 L141.73,909.53 L143.06,909.56 L144.39,909.58 L145.72,909.61 L147.05,909.63 L148.38,909.65 L149.71,909.67 L151.04,909.69 L152.37,909.70 L153.70,909.72 L155.03,909.73 L156.37,909.74 L157.70,909.76 L159.03,909.77 L160.36,909.78 L161.69,909.78 L163.02,909.79 L164.35,909.79 L165.68,909.80 L167.01,909.80 L168.34,909.80 L169.67,909.80 L171.00,909.79 L172.33,909.78 L173.66,909.77 L174.99,909.76 L176.32,909.74 L177.65,909.72 L178.98,909.71 L180.31,909.69 L181.65,909.67 L182.98,909.65 L184.31,909.63 L185.64,909.61 L186.97,909.59 L188.30,909.58 L189.63,909.56 L190.96,909.55 L192.29,909.54 L193.62,909.54 L194.95,909.53 L196.28,909.54 L197.61,909.54 L198.94,909.55 L200.27,909.56 L201.60,909.58 L202.93,909.59 L204.26,909.61 L205.59,909.63 L206.92,909.65 L208.25,909.67 L209.59,909.69 L210.92,909.71 L212.25,909.72 L213.58,909.74 L214.91,909.76 L216.24,909.77 L217.57,909.78 L218.90,909.79 L220.23,909.80 L221.56,909.80 L222.89,909.79 L224.22,909.78 L225.55,909.76 L226.88,909.73 L228.21,909.70 L229.54,909.67 L230.87,909.63 L232.20,909.60 L233.53,909.58 L234.87,909.55 L236.20,909.54 L237.53,909.53 L238.86,909.54 L240.19,909.58 L241.52,909.62 L242.85,909.67 L244.18,909.72 L245.51,909.76 L246.84,909.79 L248.17,909.80 L249.50,909.73 L250.83,909.57 L252.16,909.39 L253.49,909.27 L254.82,909.21 L256.15,909.17 L257.48,909.14 L258.81,909.11 L260.14,909.06 L261.47,909.00 L262.81,908.84 L264.14,908.57 L265.47,908.27 L266.80,908.03 L268.13,907.93 L269.46,907.95 L270.79,907.98 L272.12,908.04 L273.45,908.11 L274.78,908.20 L276.11,908.42 L277.44,908.78 L278.77,909.12 L280.10,909.27 L281.43,909.26 L282.76,909.23 L284.09,909.19 L285.42,909.14 L286.75,909.08 L288.08,909.00 L289.42,908.83 L290.75,908.53 L292.08,908.16 L293.41,907.76 L294.74,907.40 L296.07,907.10 L297.40,906.82 L298.73,906.53 L300.06,906.20 L301.39,905.80 L302.72,905.29 L304.05,904.64 L305.38,903.91 L306.71,903.13 L308.04,902.34 L309.37,901.56 L310.70,900.78 L312.03,899.92 L313.36,898.95 L314.69,897.80 L316.03,896.31 L317.36,894.41 L318.69,892.25 L320.02,889.96 L321.35,887.67 L322.68,885.37 L324.01,882.97 L325.34,880.45 L326.67,877.84 L328.00,875.14" fill="none" stroke="#3a3a12" stroke-width="2.6" stroke-linejoin="round" stroke-linecap="butt"/>
<path d="M67.22,893.27 L68.55,896.38 L69.88,898.90 L71.21,900.95 L72.54,902.62 L73.87,903.97 L75.20,905.06 L76.54,905.95 L77.87,906.68 L79.20,907.53 L80.53,908.06 L81.86,908.50 L83.19,908.87 L84.52,908.93 L85.85,908.95 L87.18,908.92 L88.51,908.86 L89.84,909.29 L91.17,909.70 L92.50,910.09 L93.83,910.46 L95.16,910.11 L96.49,909.74 L97.82,909.37 L99.15,908.99 L100.48,909.26 L101.81,909.53 L103.15,909.79 L104.48,910.06 L105.81,909.96 L107.14,909.86 L108.47,909.75 L109.80,909.65 L111.13,909.71 L112.46,909.77 L113.79,909.83 L115.12,909.89 L116.45,909.72 L117.78,909.55 L119.11,909.38 L120.44,909.21 L121.77,909.56 L123.10,909.92 L124.43,910.27 L125.76,910.62 L127.09,910.45 L128.43,910.28 L129.76,910.10 L131.09,909.93 L132.42,909.93 L133.75,909.94 L135.08,909.95 L136.41,909.95 L137.74,909.80 L139.07,909.65 L140.40,909.50 L141.73,909.35 L143.06,909.57 L144.39,909.79 L145.72,910.02 L147.05,910.24 L148.38,910.15 L149.71,910.05 L151.04,909.96 L152.37,909.87 L153.70,909.94 L155.03,910.01 L156.37,910.08 L157.70,910.15 L159.03,910.06 L160.36,909.97 L161.69,909.88 L163.02,909.78 L164.35,909.73 L165.68,909.68 L167.01,909.62 L168.34,909.57 L169.67,909.73 L171.00,909.90 L172.33,910.06 L173.66,910.23 L174.99,909.99 L176.32,909.76 L177.65,909.52 L178.98,909.29 L180.31,909.30 L181.65,909.31 L182.98,909.31 L184.31,909.32 L185.64,909.34 L186.97,909.37 L188.30,909.39 L189.63,909.41 L190.96,909.35 L192.29,909.29 L193.62,909.24 L194.95,909.18 L196.28,909.32 L197.61,909.46 L198.94,909.61 L200.27,909.75 L201.60,909.68 L202.93,909.61 L204.26,909.53 L205.59,909.46 L206.92,909.52 L208.25,909.57 L209.59,909.62 L210.92,909.67 L212.25,909.55 L213.58,909.40 L214.91,909.21 L216.24,908.87 L217.57,908.67 L218.90,908.44 L220.23,908.05 L221.56,907.53 L222.89,906.96 L224.22,906.41 L225.55,905.95 L226.88,905.58 L228.21,905.24 L229.54,904.87 L230.87,904.42 L232.20,903.84 L233.53,903.03 L234.87,902.01 L236.20,900.81 L237.53,899.47 L238.86,897.98 L240.19,896.11 L241.52,893.89 L242.85,891.39 L244.18,888.33 L245.51,884.97 L246.84,881.33 L248.17,877.51 L249.50,873.64 L250.83,869.65 L252.16,865.41 L253.49,860.86 L254.82,856.29 L256.15,851.94 L257.48,847.41 L258.81,842.05 L260.14,835.80 L261.47,830.28 L262.81,825.03 L264.14,819.76 L265.47,814.25 L266.80,808.95 L268.13,804.44 L269.46,800.50 L270.79,796.73 L272.12,793.08 L273.45,789.55 L274.78,786.11 L276.11,782.77 L277.44,779.49 L278.77,776.25 L280.10,773.14 L281.43,770.22 L282.76,767.55 L284.09,765.10 L285.42,762.79 L286.75,760.53 L288.08,758.25 L289.42,755.78 L290.75,753.28 L292.08,751.58 L293.41,750.31 L294.74,749.21 L296.07,748.11 L297.40,747.01 L298.73,745.96 L300.06,745.01 L301.39,744.23 L302.72,743.64 L304.05,743.15 L305.38,742.73 L306.71,742.35 L308.04,741.99 L309.37,741.62 L310.70,741.26 L312.03,740.91 L313.36,740.60 L314.69,740.33 L316.03,740.12 L317.36,739.94 L318.69,739.77 L320.02,739.63 L321.35,739.49 L322.68,739.37 L324.01,739.25 L325.34,739.14 L326.67,739.03 L328.00,738.94" fill="none" stroke="#7f7f7f" stroke-width="2.6" stroke-linejoin="round" stroke-linecap="butt"/>
<path d="M67.22,891.14 L68.55,895.66 L69.88,899.09 L71.21,901.69 L72.54,903.66 L73.87,905.15 L75.20,906.28 L76.54,907.13 L77.87,907.78 L79.20,908.74 L80.53,908.74 L81.86,908.64 L83.19,908.48 L84.52,908.98 L85.85,909.45 L87.18,909.88 L88.51,910.30 L89.84,910.26 L91.17,910.20 L92.50,910.14 L93.83,910.06 L95.16,909.95 L96.49,909.83 L97.82,909.70 L99.15,909.58 L100.48,909.76 L101.81,909.93 L103.15,910.11 L104.48,910.29 L105.81,910.27 L107.14,910.26 L108.47,910.24 L109.80,910.22 L111.13,910.21 L112.46,910.19 L113.79,910.18 L115.12,910.16 L116.45,910.02 L117.78,909.87 L119.11,909.73 L120.44,909.58 L121.77,909.41 L123.10,909.23 L124.43,909.06 L125.76,908.88 L127.09,909.11 L128.43,909.33 L129.76,909.56 L131.09,909.78 L132.42,909.90 L133.75,910.02 L135.08,910.13 L136.41,910.25 L137.74,910.08 L139.07,909.92 L140.40,909.75 L141.73,909.58 L143.06,909.70 L144.39,909.81 L145.72,909.92 L147.05,910.04 L148.38,909.98 L149.71,909.92 L151.04,909.87 L152.37,909.81 L153.70,909.69 L155.03,909.57 L156.37,909.45 L157.70,909.33 L159.03,909.52 L160.36,909.71 L161.69,909.91 L163.02,910.10 L164.35,910.02 L165.68,909.95 L167.01,909.87 L168.34,909.80 L169.67,909.89 L171.00,909.97 L172.33,910.06 L173.66,910.14 L174.99,910.06 L176.32,909.98 L177.65,909.90 L178.98,909.82 L180.31,909.76 L181.65,909.71 L182.98,909.65 L184.31,909.59 L185.64,909.70 L186.97,909.81 L188.30,909.91 L189.63,910.02 L190.96,909.94 L192.29,909.85 L193.62,909.77 L194.95,909.69 L196.28,909.66 L197.61,909.63 L198.94,909.61 L200.27,909.58 L201.60,909.61 L202.93,909.63 L204.26,909.66 L205.59,909.68 L206.92,909.71 L208.25,909.74 L209.59,909.77 L210.92,909.79 L212.25,909.78 L213.58,909.75 L214.91,909.67 L216.24,908.98 L217.57,908.81 L218.90,908.60 L220.23,908.33 L221.56,907.89 L222.89,907.35 L224.22,906.78 L225.55,906.25 L226.88,905.83 L228.21,905.47 L229.54,905.12 L230.87,904.74 L232.20,904.25 L233.53,903.60 L234.87,902.72 L236.20,901.64 L237.53,900.40 L238.86,899.01 L240.19,897.42 L241.52,895.43 L242.85,893.13 L244.18,890.46 L245.51,887.27 L246.84,883.84 L248.17,880.12 L249.50,876.28 L250.83,872.38 L252.16,868.32 L253.49,863.97 L254.82,859.38 L256.15,854.88 L257.48,850.53 L258.81,845.82 L260.14,840.01 L261.47,833.96 L262.81,828.55 L264.14,823.31 L265.47,817.95 L266.80,812.41 L268.13,807.30 L269.46,803.02 L270.79,799.14 L272.12,795.38 L273.45,791.74 L274.78,788.22 L276.11,784.79 L277.44,781.45 L278.77,778.15 L280.10,774.92 L281.43,771.84 L282.76,768.97 L284.09,766.35 L285.42,763.94 L286.75,761.64 L288.08,759.37 L289.42,757.04 L290.75,754.47 L292.08,752.17 L293.41,750.67 L294.74,749.46 L296.07,748.38 L297.40,747.27 L298.73,746.17 L300.06,745.15 L301.39,744.25 L302.72,743.53 L304.05,742.97 L305.38,742.51 L306.71,742.10 L308.04,741.73 L309.37,741.37 L310.70,741.00 L312.03,740.64 L313.36,740.30 L314.69,740.00 L316.03,739.75 L317.36,739.55 L318.69,739.37 L320.02,739.22 L321.35,739.07 L322.68,738.94 L324.01,738.82 L325.34,738.70 L326.67,738.59 L328.00,738.49" fill="none" stroke="#70ad47" stroke-width="2.6" stroke-linejoin="round" stroke-linecap="butt"/>
<path d="M67.22,895.94 L68.55,899.00 L69.88,901.39 L71.21,903.25 L72.54,904.70 L73.87,905.83 L75.20,906.71 L76.54,907.39 L77.87,907.92 L79.20,908.50 L80.53,909.02 L81.86,909.46 L83.19,909.86 L84.52,909.85 L85.85,909.81 L87.18,909.74 L88.51,909.66 L89.84,909.72 L91.17,909.77 L92.50,909.81 L93.83,909.85 L95.16,909.84 L96.49,909.83 L97.82,909.82 L99.15,909.80 L100.48,909.86 L101.81,909.92 L103.15,909.98 L104.48,910.04 L105.81,909.98 L107.14,909.93 L108.47,909.87 L109.80,909.81 L111.13,909.86 L112.46,909.90 L113.79,909.95 L115.12,909.99 L116.45,910.07 L117.78,910.16 L119.11,910.24 L120.44,910.32 L121.77,910.11 L123.10,909.89 L124.43,909.67 L125.76,909.45 L127.09,909.45 L128.43,909.45 L129.76,909.45 L131.09,909.45 L132.42,909.36 L133.75,909.28 L135.08,909.20 L136.41,909.12 L137.74,909.28 L139.07,909.45 L140.40,909.61 L141.73,909.78 L143.06,909.83 L144.39,909.87 L145.72,909.92 L147.05,909.96 L148.38,909.98 L149.71,909.99 L151.04,910.00 L152.37,910.02 L153.70,910.12 L155.03,910.22 L156.37,910.32 L157.70,910.42 L159.03,910.17 L160.36,909.91 L161.69,909.66 L163.02,909.41 L164.35,909.62 L165.68,909.82 L167.01,910.03 L168.34,910.24 L169.67,910.24 L171.00,910.25 L172.33,910.25 L173.66,910.25 L174.99,910.14 L176.32,910.03 L177.65,909.92 L178.98,909.81 L180.31,909.62 L181.65,909.44 L182.98,909.25 L184.31,909.06 L185.64,909.17 L186.97,909.28 L188.30,909.38 L189.63,909.49 L190.96,909.60 L192.29,909.71 L193.62,909.82 L194.95,909.93 L196.28,909.88 L197.61,909.83 L198.94,909.79 L200.27,909.74 L201.60,909.59 L202.93,909.44 L204.26,909.28 L205.59,909.12 L206.92,909.17 L208.25,909.22 L209.59,909.26 L210.92,909.27 L212.25,909.23 L213.58,909.14 L214.91,909.02 L216.24,908.57 L217.57,908.27 L218.90,907.81 L220.23,907.26 L221.56,906.69 L222.89,906.18 L224.22,905.77 L225.55,905.41 L226.88,905.07 L228.21,904.67 L229.54,904.16 L230.87,903.48 L232.20,902.56 L233.53,901.45 L234.87,900.18 L236.20,898.78 L237.53,897.13 L238.86,895.08 L240.19,892.73 L241.52,889.98 L242.85,886.74 L244.18,883.26 L245.51,879.51 L246.84,875.66 L248.17,871.75 L249.50,867.65 L250.83,863.25 L252.16,858.64 L253.49,854.19 L254.82,849.82 L256.15,845.00 L257.48,838.97 L258.81,833.06 L260.14,827.68 L261.47,822.42 L262.81,816.99 L264.14,811.45 L265.47,806.44 L266.80,802.21 L268.13,798.32 L269.46,794.54 L270.79,790.87 L272.12,787.31 L273.45,783.84 L274.78,780.45 L276.11,777.10 L277.44,773.83 L278.77,770.72 L280.10,767.83 L281.43,765.20 L282.76,762.76 L284.09,760.42 L285.42,758.10 L286.75,755.71 L288.08,753.07 L289.42,750.88 L290.75,749.43 L292.08,748.25 L293.41,747.16 L294.74,746.04 L296.07,744.94 L297.40,743.93 L298.73,743.04 L300.06,742.35 L301.39,741.81 L302.72,741.36 L304.05,740.95 L305.38,740.58 L306.71,740.22 L308.04,739.85 L309.37,739.49 L310.70,739.15 L312.03,738.86 L313.36,738.61 L314.69,738.42 L316.03,738.24 L317.36,738.09 L318.69,737.95 L320.02,737.81 L321.35,737.69 L322.68,737.57 L324.01,737.46 L325.34,737.37 L326.67,737.29 L328.00,737.29" fill="none" stroke="#5f9ed7" stroke-width="2.6" stroke-linejoin="round" stroke-linecap="butt"/>
<path d="M67.22,893.27 L68.55,896.16 L69.88,898.55 L71.21,900.52 L72.54,902.14 L73.87,903.48 L75.20,904.59 L76.54,905.50 L77.87,906.25 L79.20,907.25 L80.53,907.48 L81.86,907.63 L83.19,907.69 L84.52,908.17 L85.85,908.59 L87.18,908.97 L88.51,909.32 L89.84,909.64 L91.17,909.95 L92.50,910.23 L93.83,910.50 L95.16,910.41 L96.49,910.30 L97.82,910.19 L99.15,910.07 L100.48,909.89 L101.81,909.71 L103.15,909.52 L104.48,909.33 L105.81,909.38 L107.14,909.44 L108.47,909.49 L109.80,909.54 L111.13,909.80 L112.46,910.05 L113.79,910.30 L115.12,910.55 L116.45,910.26 L117.78,909.97 L119.11,909.67 L120.44,909.38 L121.77,909.50 L123.10,909.62 L124.43,909.74 L125.76,909.86 L127.09,909.77 L128.43,909.69 L129.76,909.60 L131.09,909.52 L132.42,909.53 L133.75,909.55 L135.08,909.56 L136.41,909.58 L137.74,909.83 L139.07,910.07 L140.40,910.32 L141.73,910.57 L143.06,910.32 L144.39,910.07 L145.72,909.82 L147.05,909.57 L148.38,909.73 L149.71,909.89 L151.04,910.04 L152.37,910.20 L153.70,909.85 L155.03,909.49 L156.37,909.13 L157.70,908.77 L159.03,908.91 L160.36,909.04 L161.69,909.18 L163.02,909.32 L164.35,909.43 L165.68,909.54 L167.01,909.66 L168.34,909.77 L169.67,909.94 L171.00,910.11 L172.33,910.28 L173.66,910.44 L174.99,910.26 L176.32,910.08 L177.65,909.89 L178.98,909.71 L180.31,909.67 L181.65,909.64 L182.98,909.61 L184.31,909.57 L185.64,909.78 L186.97,909.99 L188.30,910.20 L189.63,910.41 L190.96,909.82 L192.29,909.23 L193.62,908.64 L194.95,908.05 L196.28,908.34 L197.61,908.63 L198.94,908.92 L200.27,909.21 L201.60,908.98 L202.93,908.75 L204.26,908.51 L205.59,908.28 L206.92,908.72 L208.25,909.16 L209.59,909.59 L210.92,910.02 L212.25,909.52 L213.58,908.96 L214.91,908.37 L216.24,908.83 L217.57,908.63 L218.90,908.37 L220.23,907.95 L221.56,907.42 L222.89,906.85 L224.22,906.31 L225.55,905.87 L226.88,905.51 L228.21,905.17 L229.54,904.79 L230.87,904.32 L232.20,903.69 L233.53,902.84 L234.87,901.78 L236.20,900.55 L237.53,899.18 L238.86,897.64 L240.19,895.69 L241.52,893.42 L242.85,890.82 L244.18,887.67 L245.51,884.27 L246.84,880.57 L248.17,876.74 L249.50,872.86 L250.83,868.82 L252.16,864.52 L253.49,859.93 L254.82,855.41 L256.15,851.08 L257.48,846.46 L258.81,840.85 L260.14,834.76 L261.47,829.36 L262.81,824.19 L264.14,818.96 L265.47,813.51 L266.80,808.43 L268.13,804.19 L269.46,800.42 L270.79,796.78 L272.12,793.28 L273.45,789.89 L274.78,786.61 L276.11,783.42 L277.44,780.27 L278.77,777.19 L280.10,774.25 L281.43,771.50 L282.76,769.00 L284.09,766.69 L285.42,764.50 L286.75,762.33 L288.08,760.10 L289.42,757.64 L290.75,755.30 L292.08,753.76 L293.41,752.55 L294.74,751.48 L296.07,750.40 L297.40,749.32 L298.73,748.30 L300.06,747.40 L301.39,746.67 L302.72,746.11 L304.05,745.65 L305.38,745.24 L306.71,744.87 L308.04,744.52 L309.37,744.16 L310.70,743.80 L312.03,743.47 L313.36,743.17 L314.69,742.91 L316.03,742.71 L317.36,742.54 L318.69,742.38 L320.02,742.24 L321.35,742.11 L322.68,741.98 L324.01,741.87 L325.34,741.76 L326.67,741.66 L328.00,741.57" fill="none" stroke="#ffc000" stroke-width="2.6" stroke-linejoin="round" stroke-linecap="butt"/>
<path d="M67.22,889.86 L68.55,893.23 L69.88,896.03 L71.21,898.36 L72.54,900.29 L73.87,901.90 L75.20,903.24 L76.54,904.35 L77.87,905.27 L79.20,905.33 L80.53,906.23 L81.86,907.03 L83.19,907.74 L84.52,908.07 L85.85,908.34 L87.18,908.55 L88.51,908.73 L89.84,908.75 L91.17,908.75 L92.50,908.72 L93.83,908.68 L95.16,909.01 L96.49,909.33 L97.82,909.63 L99.15,909.93 L100.48,909.94 L101.81,909.94 L103.15,909.93 L104.48,909.92 L105.81,909.87 L107.14,909.80 L108.47,909.74 L109.80,909.67 L111.13,909.73 L112.46,909.79 L113.79,909.85 L115.12,909.91 L116.45,910.00 L117.78,910.09 L119.11,910.18 L120.44,910.26 L121.77,910.17 L123.10,910.07 L124.43,909.97 L125.76,909.88 L127.09,909.89 L128.43,909.91 L129.76,909.92 L131.09,909.94 L132.42,909.85 L133.75,909.75 L135.08,909.65 L136.41,909.56 L137.74,909.78 L139.07,910.01 L140.40,910.24 L141.73,910.47 L143.06,910.37 L144.39,910.27 L145.72,910.18 L147.05,910.08 L148.38,909.89 L149.71,909.71 L151.04,909.52 L152.37,909.34 L153.70,909.27 L155.03,909.20 L156.37,909.13 L157.70,909.06 L159.03,909.39 L160.36,909.73 L161.69,910.07 L163.02,910.40 L164.35,910.19 L165.68,909.97 L167.01,909.76 L168.34,909.54 L169.67,909.70 L171.00,909.86 L172.33,910.02 L173.66,910.18 L174.99,910.15 L176.32,910.13 L177.65,910.11 L178.98,910.08 L180.31,910.07 L181.65,910.06 L182.98,910.04 L184.31,910.03 L185.64,909.96 L186.97,909.90 L188.30,909.84 L189.63,909.77 L190.96,909.61 L192.29,909.45 L193.62,909.30 L194.95,909.14 L196.28,909.15 L197.61,909.16 L198.94,909.18 L200.27,909.19 L201.60,909.24 L202.93,909.29 L204.26,909.33 L205.59,909.38 L206.92,909.40 L208.25,909.41 L209.59,909.42 L210.92,909.42 L212.25,909.33 L213.58,909.20 L214.91,909.02 L216.24,908.81 L217.57,908.60 L218.90,908.33 L220.23,907.89 L221.56,907.35 L222.89,906.78 L224.22,906.25 L225.55,905.83 L226.88,905.47 L228.21,905.12 L229.54,904.74 L230.87,904.25 L232.20,903.60 L233.53,902.72 L234.87,901.64 L236.20,900.40 L237.53,899.01 L238.86,897.42 L240.19,895.43 L241.52,893.13 L242.85,890.46 L244.18,887.27 L245.51,883.84 L246.84,880.12 L248.17,876.28 L249.50,872.38 L250.83,868.32 L252.16,863.97 L253.49,859.38 L254.82,854.89 L256.15,850.54 L257.48,845.83 L258.81,840.02 L260.14,833.99 L261.47,828.58 L262.81,823.36 L264.14,818.02 L265.47,812.49 L266.80,807.41 L268.13,803.14 L269.46,799.29 L270.79,795.55 L272.12,791.94 L273.45,788.44 L274.78,785.03 L276.11,781.72 L277.44,778.44 L278.77,775.24 L280.10,772.18 L281.43,769.34 L282.76,766.75 L284.09,764.35 L285.42,762.07 L286.75,759.81 L288.08,757.49 L289.42,754.94 L290.75,752.64 L292.08,751.14 L293.41,749.94 L294.74,748.86 L296.07,747.76 L297.40,746.66 L298.73,745.64 L300.06,744.74 L301.39,744.02 L302.72,743.47 L304.05,743.01 L305.38,742.60 L306.71,742.23 L308.04,741.87 L309.37,741.50 L310.70,741.15 L312.03,740.81 L313.36,740.51 L314.69,740.26 L316.03,740.06 L317.36,739.88 L318.69,739.73 L320.02,739.58 L321.35,739.45 L322.68,739.33 L324.01,739.21 L325.34,739.10 L326.67,739.00 L328.00,738.92" fill="none" stroke="#3f6e2a" stroke-width="2.6" stroke-linejoin="round" stroke-linecap="butt"/>
<path d="M67.22,896.87 L68.55,899.21 L69.88,901.13 L71.21,902.70 L72.54,903.99 L73.87,905.04 L75.20,905.91 L76.54,906.61 L77.87,907.19 L79.20,907.68 L80.53,908.12 L81.86,908.50 L83.19,908.82 L84.52,909.12 L85.85,909.37 L87.18,909.60 L88.51,909.80 L89.84,909.72 L91.17,909.61 L92.50,909.50 L93.83,909.37 L95.16,909.40 L96.49,909.42 L97.82,909.44 L99.15,909.45 L100.48,909.61 L101.81,909.77 L103.15,909.92 L104.48,910.08 L105.81,909.92 L107.14,909.75 L108.47,909.59 L109.80,909.43 L111.13,909.54 L112.46,909.66 L113.79,909.77 L115.12,909.88 L116.45,909.72 L117.78,909.56 L119.11,909.40 L120.44,909.23 L121.77,909.34 L123.10,909.45 L124.43,909.56 L125.76,909.67 L127.09,909.72 L128.43,909.77 L129.76,909.82 L131.09,909.87 L132.42,909.79 L133.75,909.70 L135.08,909.62 L136.41,909.54 L137.74,909.60 L139.07,909.66 L140.40,909.72 L141.73,909.78 L143.06,909.78 L144.39,909.77 L145.72,909.77 L147.05,909.77 L148.38,909.78 L149.71,909.78 L151.04,909.78 L152.37,909.78 L153.70,909.80 L155.03,909.81 L156.37,909.82 L157.70,909.83 L159.03,909.79 L160.36,909.75 L161.69,909.71 L163.02,909.66 L164.35,909.66 L165.68,909.65 L167.01,909.64 L168.34,909.63 L169.67,909.65 L171.00,909.67 L172.33,909.69 L173.66,909.71 L174.99,909.62 L176.32,909.53 L177.65,909.44 L178.98,909.35 L180.31,909.51 L181.65,909.66 L182.98,909.81 L184.31,909.96 L185.64,909.90 L186.97,909.83 L188.30,909.77 L189.63,909.70 L190.96,909.61 L192.29,909.53 L193.62,909.44 L194.95,909.36 L196.28,909.45 L197.61,909.54 L198.94,909.63 L200.27,909.72 L201.60,909.56 L202.93,909.40 L204.26,909.23 L205.59,909.06 L206.92,909.09 L208.25,909.10 L209.59,909.11 L210.92,909.12 L212.25,909.11 L213.58,909.05 L214.91,908.95 L216.24,908.77 L217.57,908.57 L218.90,908.27 L220.23,907.81 L221.56,907.26 L222.89,906.69 L224.22,906.18 L225.55,905.77 L226.88,905.41 L228.21,905.07 L229.54,904.67 L230.87,904.16 L232.20,903.48 L233.53,902.56 L234.87,901.45 L236.20,900.18 L237.53,898.78 L238.86,897.13 L240.19,895.08 L241.52,892.73 L242.85,889.98 L244.18,886.74 L245.51,883.26 L246.84,879.51 L248.17,875.66 L249.50,871.75 L250.83,867.65 L252.16,863.25 L253.49,858.64 L254.82,854.20 L256.15,849.86 L257.48,845.10 L258.81,839.16 L260.14,833.38 L261.47,828.16 L262.81,823.11 L264.14,817.92 L265.47,812.66 L266.80,807.97 L268.13,804.09 L269.46,800.56 L270.79,797.17 L272.12,793.92 L273.45,790.79 L274.78,787.77 L276.11,784.83 L277.44,781.94 L278.77,779.14 L280.10,776.47 L281.43,774.02 L282.76,771.79 L284.09,769.72 L285.42,767.72 L286.75,765.70 L288.08,763.58 L289.42,761.17 L290.75,759.14 L292.08,757.77 L293.41,756.65 L294.74,755.61 L296.07,754.56 L297.40,753.52 L298.73,752.55 L300.06,751.72 L301.39,751.06 L302.72,750.55 L304.05,750.12 L305.38,749.73 L306.71,749.38 L308.04,749.04 L309.37,748.69 L310.70,748.34 L312.03,748.03 L313.36,747.75 L314.69,747.52 L316.03,747.33 L317.36,747.16 L318.69,747.02 L320.02,746.88 L321.35,746.76 L322.68,746.64 L324.01,746.53 L325.34,746.43 L326.67,746.33 L328.00,746.26" fill="none" stroke="#255e91" stroke-width="2.6" stroke-linejoin="round" stroke-linecap="butt"/>
<text x="205.40" y="947.60" font-size="14" text-anchor="middle" fill="#080808" font-weight="bold" >Cycle</text>
<text transform="translate(25.6,806) rotate(-90)" font-size="14" text-anchor="middle" fill="#080808" font-weight="bold">Fluorescence intensity (△Rn)</text>
<line x1="73.60" y1="713.80" x2="92.80" y2="713.80" stroke="#3a3a12" stroke-width="2.3" />
<text x="94.00" y="718.10" font-size="12.0" text-anchor="start" fill="#080808" font-weight="bold" >NTC</text>
<line x1="73.60" y1="730.73" x2="92.80" y2="730.73" stroke="#7f7f7f" stroke-width="2.3" />
<text x="94.00" y="735.03" font-size="12.0" text-anchor="start" fill="#080808" font-weight="bold" >No-Probe</text>
<line x1="73.60" y1="747.66" x2="92.80" y2="747.66" stroke="#70ad47" stroke-width="2.3" />
<text x="94.00" y="751.96" font-size="12.0" text-anchor="start" fill="#080808" font-weight="bold" >53 °C Silent</text>
<line x1="73.60" y1="764.59" x2="92.80" y2="764.59" stroke="#5f9ed7" stroke-width="2.3" />
<text x="94.00" y="768.89" font-size="12.0" text-anchor="start" fill="#080808" font-weight="bold" >58 °C Silent</text>
<line x1="73.60" y1="781.52" x2="92.80" y2="781.52" stroke="#ffc000" stroke-width="2.3" />
<text x="94.00" y="785.82" font-size="12.0" text-anchor="start" fill="#080808" font-weight="bold" >64 °C Silent</text>
<line x1="73.60" y1="798.45" x2="92.80" y2="798.45" stroke="#3f6e2a" stroke-width="2.3" />
<text x="94.00" y="802.75" font-size="12.0" text-anchor="start" fill="#080808" font-weight="bold" >68 °C Silent</text>
<line x1="73.60" y1="815.38" x2="92.80" y2="815.38" stroke="#255e91" stroke-width="2.3" />
<text x="94.00" y="819.68" font-size="12.0" text-anchor="start" fill="#080808" font-weight="bold" >72 °C Silent</text>
</g>
<g id="panel-e">
<text x="349.20" y="684.40" font-size="20.5" text-anchor="start" fill="#080808" font-weight="bold" >(e)</text>
<line x1="418.70" y1="695.30" x2="418.70" y2="833.50" stroke="#000" stroke-width="2.1" />
<line x1="417.70" y1="832.50" x2="680.30" y2="832.50" stroke="#000" stroke-width="2.1" />
<line x1="412.30" y1="832.50" x2="418.70" y2="832.50" stroke="#000" stroke-width="1.9" />
<text x="411.60" y="837.30" font-size="12.3" text-anchor="end" fill="#080808" font-weight="bold" >30</text>
<line x1="412.30" y1="805.26" x2="418.70" y2="805.26" stroke="#000" stroke-width="1.9" />
<text x="411.60" y="810.06" font-size="12.3" text-anchor="end" fill="#080808" font-weight="bold" >32</text>
<line x1="412.30" y1="778.02" x2="418.70" y2="778.02" stroke="#000" stroke-width="1.9" />
<text x="411.60" y="782.82" font-size="12.3" text-anchor="end" fill="#080808" font-weight="bold" >34</text>
<line x1="412.30" y1="750.78" x2="418.70" y2="750.78" stroke="#000" stroke-width="1.9" />
<text x="411.60" y="755.58" font-size="12.3" text-anchor="end" fill="#080808" font-weight="bold" >36</text>
<line x1="412.30" y1="723.54" x2="418.70" y2="723.54" stroke="#000" stroke-width="1.9" />
<text x="411.60" y="728.34" font-size="12.3" text-anchor="end" fill="#080808" font-weight="bold" >38</text>
<line x1="412.30" y1="696.30" x2="418.70" y2="696.30" stroke="#000" stroke-width="1.9" />
<text x="411.60" y="701.10" font-size="12.3" text-anchor="end" fill="#080808" font-weight="bold" >40</text>
<text transform="translate(386.0,761.3) rotate(-90) scale(1,1.1)" font-size="14.3" text-anchor="middle" fill="#080808" font-weight="bold">C<tspan font-size="10.5" dy="3.0">t</tspan><tspan dy="-3.0"> value</tspan></text>
<line x1="440.20" y1="832.50" x2="440.20" y2="839.40" stroke="#000" stroke-width="1.9" />
<line x1="440.20" y1="791.90" x2="440.20" y2="801.50" stroke="#111" stroke-width="1.0" />
<line x1="434.90" y1="791.90" x2="445.50" y2="791.90" stroke="#111" stroke-width="1.0" />
<line x1="434.90" y1="801.50" x2="445.50" y2="801.50" stroke="#111" stroke-width="1.0" />
<circle cx="440.2" cy="797.0" r="2.7" fill="#000"/>
<text transform="translate(446.00,850.4) rotate(-45)" font-size="14.8" text-anchor="end" fill="#080808" font-weight="bold" stroke="#080808" stroke-width="0.3">53 <tspan font-weight="normal">°</tspan>C</text>
<line x1="494.50" y1="832.50" x2="494.50" y2="839.40" stroke="#000" stroke-width="1.9" />
<line x1="494.50" y1="793.60" x2="494.50" y2="800.70" stroke="#111" stroke-width="1.0" />
<line x1="489.20" y1="793.60" x2="499.80" y2="793.60" stroke="#111" stroke-width="1.0" />
<line x1="489.20" y1="800.70" x2="499.80" y2="800.70" stroke="#111" stroke-width="1.0" />
<rect x="491.75" y="794.55" width="5.5" height="5.5" fill="#000"/>
<text transform="translate(500.30,850.4) rotate(-45)" font-size="14.8" text-anchor="end" fill="#080808" font-weight="bold" stroke="#080808" stroke-width="0.3">58 <tspan font-weight="normal">°</tspan>C</text>
<line x1="548.90" y1="832.50" x2="548.90" y2="839.40" stroke="#000" stroke-width="1.9" />
<line x1="548.90" y1="792.20" x2="548.90" y2="798.30" stroke="#111" stroke-width="1.0" />
<line x1="543.60" y1="792.20" x2="554.20" y2="792.20" stroke="#111" stroke-width="1.0" />
<line x1="543.60" y1="798.30" x2="554.20" y2="798.30" stroke="#111" stroke-width="1.0" />
<polygon points="548.9,792.6 551.9,797.9 545.9,797.9" fill="#000"/>
<text transform="translate(554.70,850.4) rotate(-45)" font-size="14.8" text-anchor="end" fill="#080808" font-weight="bold" stroke="#080808" stroke-width="0.3">64 <tspan font-weight="normal">°</tspan>C</text>
<line x1="603.20" y1="832.50" x2="603.20" y2="839.40" stroke="#000" stroke-width="1.9" />
<line x1="603.20" y1="796.00" x2="603.20" y2="805.10" stroke="#111" stroke-width="1.0" />
<line x1="597.90" y1="796.00" x2="608.50" y2="796.00" stroke="#111" stroke-width="1.0" />
<line x1="597.90" y1="805.10" x2="608.50" y2="805.10" stroke="#111" stroke-width="1.0" />
<polygon points="603.2,803.0 606.2,797.7 600.2,797.7" fill="#000"/>
<text transform="translate(609.00,850.4) rotate(-45)" font-size="14.8" text-anchor="end" fill="#080808" font-weight="bold" stroke="#080808" stroke-width="0.3">68 <tspan font-weight="normal">°</tspan>C</text>
<line x1="657.60" y1="832.50" x2="657.60" y2="839.40" stroke="#000" stroke-width="1.9" />
<line x1="657.60" y1="787.30" x2="657.60" y2="799.20" stroke="#111" stroke-width="1.0" />
<line x1="652.30" y1="787.30" x2="662.90" y2="787.30" stroke="#111" stroke-width="1.0" />
<line x1="652.30" y1="799.20" x2="662.90" y2="799.20" stroke="#111" stroke-width="1.0" />
<polygon points="657.6,789.7 660.2,793.1 657.6,796.5 655.0,793.1" fill="#000"/>
<text transform="translate(663.40,850.4) rotate(-45)" font-size="14.8" text-anchor="end" fill="#080808" font-weight="bold" stroke="#080808" stroke-width="0.3">72 <tspan font-weight="normal">°</tspan>C</text>
</g>
</svg>
</body>
</html>
